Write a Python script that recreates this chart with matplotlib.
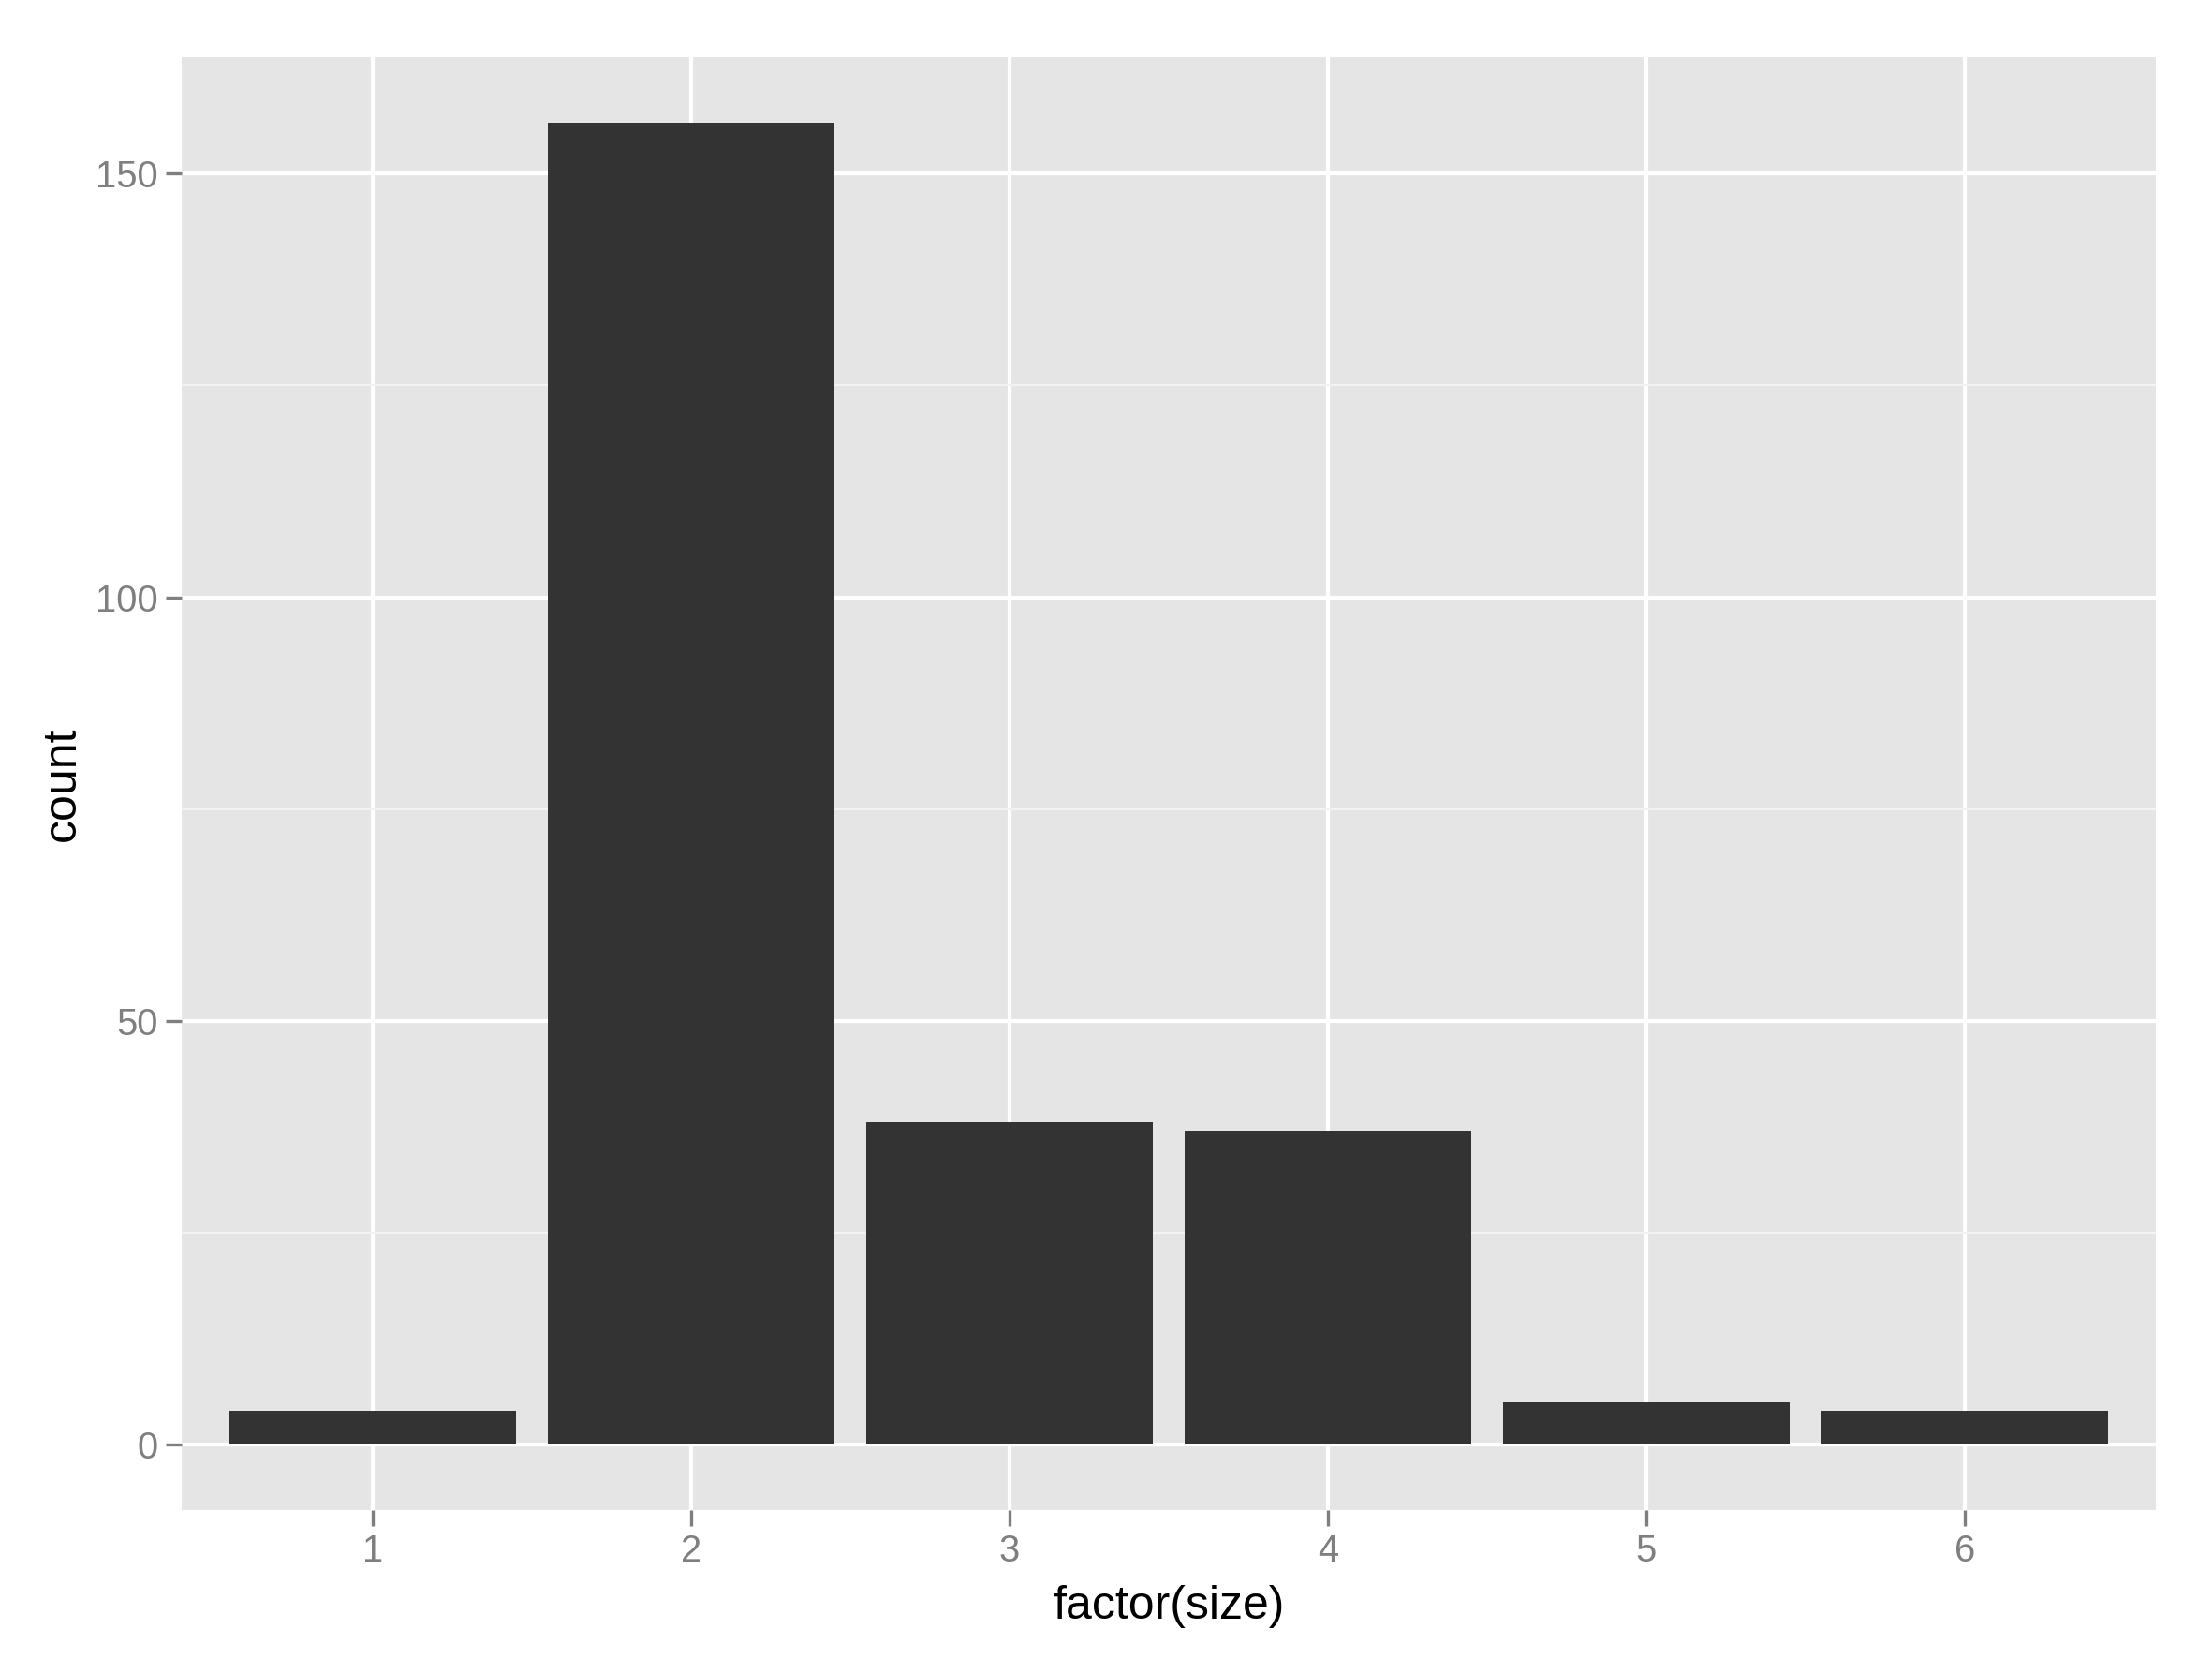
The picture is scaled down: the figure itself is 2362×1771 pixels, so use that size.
import matplotlib
matplotlib.use("Agg")
import matplotlib.pyplot as plt

categories = ["1", "2", "3", "4", "5", "6"]
counts = [4, 156, 38, 37, 5, 4]
y_ticks = [0, 50, 100, 150]
y_minor = [25, 75, 125]

plt.rcParams['font.family'] = ['Liberation Sans', 'DejaVu Sans']

fig = plt.figure(figsize=(2362/300, 1771/300), dpi=300)
ax = fig.add_axes([0.0821, 0.0896, 0.9745 - 0.0821, 0.9658 - 0.0896])
ax.set_facecolor('#E5E5E5')

xpos = list(range(1, len(categories) + 1))
ax.bar(xpos, counts, width=0.9, color='#333333', zorder=3)

ax.set_xlim(0.4, 6.6)
ymax = max(counts)
ax.set_ylim(-0.05 * ymax, 1.05 * ymax)

ax.set_xticks(xpos)
ax.set_xticklabels(categories)
ax.set_yticks(y_ticks)
ax.set_yticks(y_minor, minor=True)

ax.grid(True, which='major', color='white', linewidth=1.0, zorder=1)
ax.grid(True, which='minor', axis='y', color='#F2F2F2', linewidth=0.5, zorder=1)
ax.set_axisbelow(True)

for s in ax.spines.values():
    s.set_visible(False)

ax.tick_params(axis='both', which='major', colors='#7F7F7F', labelsize=9.6,
               length=4, width=0.8, labelcolor='#7F7F7F', pad=2)
ax.tick_params(axis='both', which='minor', length=0)

ax.set_xlabel('factor(size)', fontsize=12, color='black', labelpad=4)
ax.set_ylabel('count', fontsize=12, color='black', labelpad=3)

fig.savefig('out.png', dpi=300, facecolor='white')
